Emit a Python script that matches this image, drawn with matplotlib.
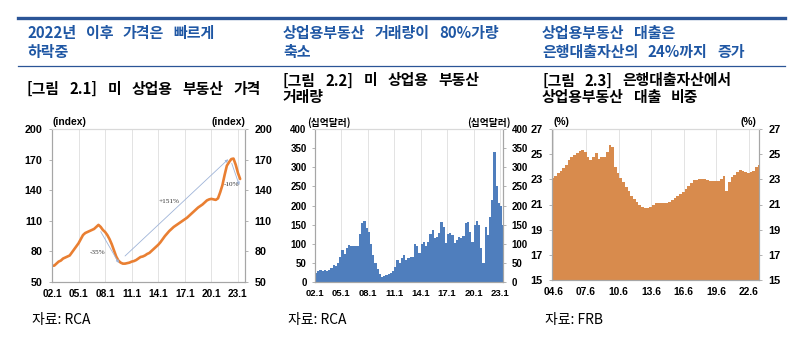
import numpy as np
import matplotlib
matplotlib.use("Agg")
import matplotlib.pyplot as plt
from matplotlib.lines import Line2D

plt.rcParams['font.family'] = ['Noto Sans CJK KR', 'DejaVu Sans']

# ---------------- data ----------------
titles = ["2022년 이후 가격은 빠르게\n하락중",
          "상업용부동산 거래량이 80%가량\n축소",
          "상업용부동산 대출은\n은행대출자산의 24%까지 증가"]
subtitles = ["[그림 2.1] 미 상업용 부동산 가격",
             "[그림 2.2] 미 상업용 부동산\n거래량",
             "[그림 2.3] 은행대출자산에서\n상업용부동산 대출 비중"]
sources = ["자료: RCA", "자료: RCA", "자료: FRB"]
units = ["(index)", "(십억달러)", "(%)"]

# Panel 1: price index, quarterly from 2002Q1
price_start = 2002.0
price_index = [66, 66, 68, 70,
               71, 73, 74, 75,
               76, 79, 82, 85,
               88, 92, 96, 98,
               99, 100, 101, 102,
               104, 106, 104, 101,
               99, 96, 92, 87,
               81, 75, 71, 69,
               68, 68, 68.5, 69,
               70, 70.5, 71.5, 73,
               74.5, 75, 76, 77.5,
               78.5, 80.5, 82.5, 84.5,
               86.5, 89, 92, 95,
               97.5, 100, 102, 104,
               105.5, 107, 108.5, 110,
               111.5, 113, 115, 117,
               119, 121, 123, 124.5,
               126, 128, 130, 131,
               131.5, 131, 130.5, 132,
               138, 145, 155, 164,
               167.5, 170.5, 171, 165,
               157, 151]
price_xticklabels = ["02.1", "05.1", "08.1", "11.1", "14.1", "17.1", "20.1", "23.1"]
price_yticks = [50, 80, 110, 140, 170, 200]
# annotations: (label, arrow start (year, value), arrow end (year, value), label pos)
price_ann = [("-35%", (2007.5, 99.4), (2009.55, 68.6), (2007.2, 79)),
             ("+151%", (2010.25, 75.5), (2021.9, 170.3), (2015.25, 128.7)),
             ("-10%", (2022.3, 166.4), (2023.15, 145), (2022.25, 146))]

# Panel 2: transaction volume (billion USD), quarterly from 2002Q1
vol_start = 2002.0
volume = [24, 28, 31, 30,
          32, 30, 31, 36,
          44, 42, 50, 66,
          84, 72, 88, 97,
          95, 93, 95, 93,
          125, 155, 160, 140,
          130, 100, 70, 49,
          35, 20, 14, 16,
          18, 20, 23, 30,
          40, 57, 49, 62,
          70, 57, 62, 66,
          66, 99, 95, 75,
          100, 105, 95, 105,
          125, 136, 114, 118,
          128, 158, 145, 101,
          125, 127, 123, 101,
          110, 118, 114, 120,
          153, 156, 130, 105,
          150, 160, 150, 90,
          49, 145, 123, 171,
          214, 341, 250, 206,
          200, 150]
vol_yticks = [0, 50, 100, 150, 200, 250, 300, 350, 400]

# Panel 3: CRE loan share of bank loans (%), quarterly from 2004Q2
share_start = 2004.25
share = [23.1, 23.3, 23.5,
         23.7, 23.9, 24.1, 24.5,
         24.8, 24.95, 25.1, 25.25,
         25.3, 25.15, 24.8, 24.55,
         24.8, 25.1, 24.6, 24.75,
         24.8, 25.2, 25.7, 25.6,
         24.0, 23.5, 23.1, 22.8,
         22.4, 22.1, 21.7, 21.4,
         21.2, 21.0, 20.8, 20.75,
         20.7, 20.8, 20.95, 21.1,
         21.15, 21.15, 21.1, 21.15,
         21.2, 21.35, 21.5, 21.65,
         21.8, 22.0, 22.2, 22.45,
         22.7, 22.95, 22.95, 23.0,
         23.05, 23.0, 22.95, 22.9,
         22.85, 22.9, 22.9, 23.0,
         23.3, 22.1, 22.8, 23.2,
         23.35, 23.55, 23.75, 23.7,
         23.6, 23.5, 23.6, 23.65,
         24.0, 24.1]
share_xticklabels = ["04.6", "07.6", "10.6", "13.6", "16.6", "19.6", "22.6"]
share_yticks = [15, 17, 19, 21, 23, 25, 27]

# ---------------- style ----------------
W, H = 801, 341
fig = plt.figure(figsize=(W / 100, H / 100), dpi=100)
renderer = fig.canvas.get_renderer()

TITLE_BLUE = '#1F57A4'
RULE_BLUE = '#2B5597'
GRID = '#E3E3E3'
SPINE = '#A6A6A6'
NUMFONT = 'Liberation Sans'


def fx(px):
    return px / W


def fy(py):
    return 1 - py / H


def draw_words(x_px, y_px, text, gap_px, **kw):
    """Draw a line word by word with wider (justified-looking) word gaps."""
    x = x_px
    for w in text.split(' '):
        t = fig.text(fx(x), fy(y_px), w, ha='left', va='center', **kw)
        bb = t.get_window_extent(renderer=renderer)
        x += bb.width + gap_px


# header rules
fig.add_artist(Line2D([fx(18), fx(785)], [fy(18), fy(18)], color=RULE_BLUE, lw=2.4))
fig.add_artist(Line2D([fx(18), fx(785)], [fy(66), fy(66)], color=RULE_BLUE, lw=0.9))

title_x = [27, 283, 542]
for i in range(3):
    for j, ln in enumerate(titles[i].split("\n")):
        draw_words(title_x[i], 33 + 18.5 * j, ln, 9.5, color=TITLE_BLUE,
                   fontsize=10.8, fontweight='bold')
    sl = subtitles[i].split("\n")
    if len(sl) == 1:
        draw_words(title_x[i], 89, sl[0], 10, color='black', fontsize=10.7,
                   fontweight='bold')
    else:
        for j, ln in enumerate(sl):
            draw_words(title_x[i], 80.5 + 16.5 * j, ln, 10, color='black', fontsize=10.7,
                       fontweight='bold')

source_x = [32, 288, 545]
for i in range(3):
    fig.text(fx(source_x[i]), fy(320), sources[i], color='black', fontsize=10,
             ha='left', va='center')


def style_axes(ax, ax2, ysize, xsize, pad):
    for a in (ax, ax2):
        for s in a.spines.values():
            s.set_color(SPINE)
            s.set_linewidth(0.8)
        a.spines['top'].set_color('#D9D9D9')
    ax.tick_params(axis='y', length=2.5, width=0.6, color=SPINE, pad=pad, labelsize=ysize)
    ax2.tick_params(axis='y', length=2.5, width=0.6, color=SPINE, pad=pad, labelsize=ysize)
    ax.tick_params(axis='x', length=0, pad=5, labelsize=xsize)
    for lab in ax.get_xticklabels() + ax.get_yticklabels() + ax2.get_yticklabels():
        lab.set_fontfamily(NUMFONT)
        lab.set_fontweight('bold')
    ax.grid(axis='x', color=GRID, lw=0.7)
    ax.set_axisbelow(True)


def step_edges(start, values):
    x = start + np.arange(len(values) + 1) * 0.25
    y = list(values) + [values[-1]]
    return x, np.array(y, dtype=float)


# ---------------- panel 1 ----------------
ax1 = fig.add_axes([fx(52), fy(282), fx(245) - fx(52), fy(129) - fy(282)])
px = price_start + np.arange(len(price_index)) * 0.25
ax1.plot(px, price_index, color='#E97F32', lw=1.9, solid_capstyle='round')
ax1.set_xlim(2002.0, 2023.8)
ax1.set_ylim(50, 200)
ax1.set_yticks(price_yticks)
ax1.set_xticks([2002 + 3 * k for k in range(len(price_xticklabels))])
ax1.set_xticklabels(price_xticklabels)
ax1b = ax1.twinx()
ax1b.set_ylim(50, 200)
ax1b.set_yticks(price_yticks)
style_axes(ax1, ax1b, 7.7, 7.3, 4.2)
for lab, (x0, y0), (x1, y1), (tx, ty) in price_ann:
    ax1.annotate("", xy=(x1, y1), xytext=(x0, y0),
                 arrowprops=dict(arrowstyle='-|>', color='#9FB4D8', lw=0.6,
                                 mutation_scale=4, shrinkA=0, shrinkB=0))
    ax1.text(tx, ty, lab, fontsize=5.2, family='Liberation Serif', color='#333333',
             ha='center', va='center')
ax1.text(0.0, 1.01, units[0], transform=ax1.transAxes, fontsize=7.4, fontweight='bold',
         family=NUMFONT, ha='left', va='bottom')
ax1.text(1.0, 1.01, units[0], transform=ax1.transAxes, fontsize=7.4, fontweight='bold',
         family=NUMFONT, ha='right', va='bottom')

# ---------------- panel 2 ----------------
ax2 = fig.add_axes([fx(315), fy(282), fx(503) - fx(315), fy(129) - fy(282)])
vx, vy = step_edges(vol_start, volume)
ax2.fill_between(vx, 0, vy, step='post', color='#4F7EBD', lw=0, zorder=2)
ax2.set_xlim(2002.0, 2023.35)
ax2.set_ylim(0, 400)
ax2.set_yticks(vol_yticks)
ax2.set_xticks([2002 + 3 * k for k in range(len(price_xticklabels))])
ax2.set_xticklabels(price_xticklabels)
ax2b = ax2.twinx()
ax2b.set_ylim(0, 400)
ax2b.set_yticks(vol_yticks)
style_axes(ax2, ax2b, 7.0, 6.8, 3.6)
ax2.text(-0.04, 1.005, units[1], transform=ax2.transAxes, fontsize=7.0, fontweight='bold',
         ha='left', va='bottom')
ax2.text(1.04, 1.005, units[1], transform=ax2.transAxes, fontsize=7.0, fontweight='bold',
         ha='right', va='bottom')

# ---------------- panel 3 ----------------
ax3 = fig.add_axes([fx(552), fy(280), fx(759) - fx(552), fy(129) - fy(280)])
sx, sy = step_edges(share_start, share)
ax3.fill_between(sx, 15, sy, step='post', color='#D88B4D', lw=0, zorder=2)
ax3.set_xlim(2004.3, 2023.35)
ax3.set_ylim(15, 27)
ax3.set_yticks(share_yticks)
ax3.set_xticks([2004.42 + 3 * k for k in range(len(share_xticklabels))])
ax3.set_xticklabels(share_xticklabels)
ax3b = ax3.twinx()
ax3b.set_ylim(15, 27)
ax3b.set_yticks(share_yticks)
style_axes(ax3, ax3b, 7.9, 7.4, 4.2)
ax3.text(0.005, 1.01, units[2], transform=ax3.transAxes, fontsize=7.4, fontweight='bold',
         family=NUMFONT, ha='left', va='bottom')
ax3.text(0.985, 1.01, units[2], transform=ax3.transAxes, fontsize=7.4, fontweight='bold',
         family=NUMFONT, ha='right', va='bottom')

fig.savefig("out.png", dpi=100)
